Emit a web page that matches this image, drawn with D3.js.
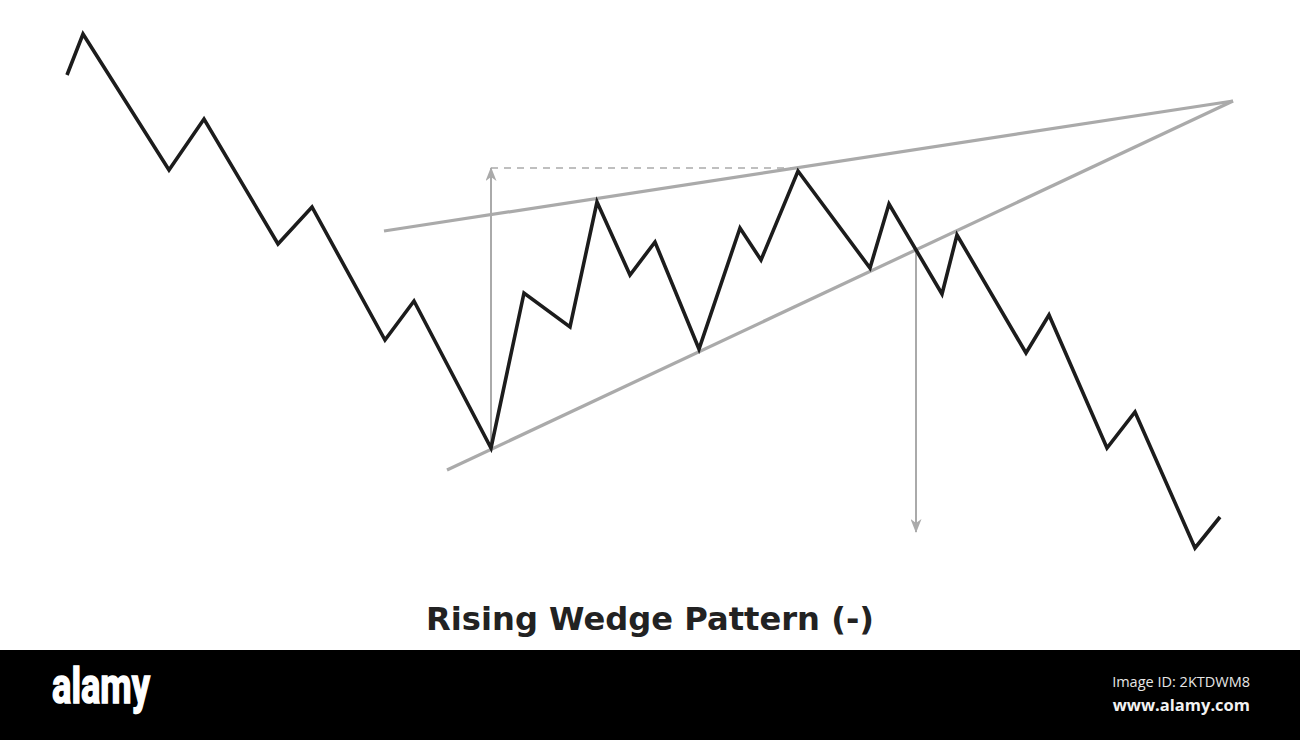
<!DOCTYPE html>
<html>
<head>
<meta charset="utf-8">
<script src="https://cdn.jsdelivr.net/npm/d3@7"></script>
<style>
  body { margin: 0; background: #fff; }
  svg { display: block; }
</style>
</head>
<body>
<div class="chart"></div>
<script>
var svgWidth = 1300;
var svgHeight = 740;

// price path (time, price)
var times  = [7, 23, 109, 144, 218, 252, 325, 354, 431, 464, 510, 537, 570, 595, 639, 680, 701, 738, 810, 829, 882, 897, 966, 989, 1047, 1075, 1135, 1160];
var prices = [525, 566, 430, 481, 356, 393, 260, 299, 152, 307, 273, 398, 325, 358, 251, 372, 340, 429, 332, 396, 306, 365, 247, 285, 152, 188, 52, 83];

// wedge lines: [start, apex]
var upperLine = [[324, 369], [1173, 499]];
var lowerLine = [[387, 130], [1173, 499]];

// measured height and projected target
var targetLine = [[431, 432], [738, 432]];
var upArrow = [[431, 152], [431, 432]];
var downArrow = [[856, 350], [856, 68]];

var titleText = "Rising Wedge Pattern (-)";

var svg = d3.select(".chart")
    .append("svg")
    .attr("width", svgWidth)
    .attr("height", svgHeight);

var xScale = d3.scaleLinear().domain([0, 1200]).range([60, 1260]);
var yScale = d3.scaleLinear().domain([0, 600]).range([600, 0]);

var line = d3.line()
    .x(d => xScale(d[0]))
    .y(d => yScale(d[1]));

var grey = "#aaaaaa";

// arrow marker
var defs = svg.append("defs");
defs.append("marker")
    .attr("id", "head")
    .attr("viewBox", "0 0 14 11")
    .attr("refX", 13)
    .attr("refY", 5.5)
    .attr("markerWidth", 14)
    .attr("markerHeight", 11)
    .attr("markerUnits", "userSpaceOnUse")
    .attr("orient", "auto")
    .append("path")
    .attr("d", "M0,0 L14,5.5 L0,11 L4,5.5 Z")
    .attr("fill", grey);

// wedge lines
[upperLine, lowerLine].forEach(function(l) {
  svg.append("path")
    .attr("d", line(l))
    .attr("stroke", grey)
    .attr("stroke-width", 3.2)
    .attr("fill", "none");
});

// dashed target
svg.append("path")
  .attr("d", line(targetLine))
  .attr("stroke", grey)
  .attr("stroke-width", 1.6)
  .attr("stroke-dasharray", "7,6")
  .attr("fill", "none");

// arrows
[upArrow, downArrow].forEach(function(a) {
  svg.append("path")
    .attr("d", line(a))
    .attr("stroke", grey)
    .attr("stroke-width", 2)
    .attr("fill", "none")
    .attr("marker-end", "url(#head)");
});

// price line
var pts = times.map((t, i) => [t, prices[i]]);
svg.append("path")
  .attr("d", line(pts))
  .attr("stroke", "#1c1c1c")
  .attr("stroke-width", 3.6)
  .attr("stroke-linejoin", "miter")
  .attr("fill", "none");

// title
var title = svg.append("text")
  .attr("x", 650)
  .attr("y", 630)
  .attr("text-anchor", "middle")
  .attr("font-family", "DejaVu Sans, Verdana, sans-serif")
  .attr("font-weight", "bold")
  .attr("font-size", 30)
  .attr("fill", "#222")
  .text(titleText);
var tw = title.node().getComputedTextLength();
title.attr("font-size", 30 * 448 / tw);

// banner
svg.append("rect")
  .attr("x", 0)
  .attr("y", 650)
  .attr("width", svgWidth)
  .attr("height", 90)
  .attr("fill", "#000");

svg.append("text")
  .attr("x", 52)
  .attr("y", 703)
  .attr("font-family", "Liberation Sans Narrow, Roboto, sans-serif")
  .attr("font-weight", "bold")
  .attr("font-size", 50)
  .attr("textLength", 98)
  .attr("lengthAdjust", "spacingAndGlyphs")
  .attr("fill", "#fff")
  .attr("stroke", "#fff")
  .attr("stroke-width", 1.6)
  .text("alamy");

svg.append("text")
  .attr("x", 1250)
  .attr("y", 687)
  .attr("text-anchor", "end")
  .attr("font-family", "Open Sans, Noto Sans, sans-serif")
  .attr("font-size", 14.5)
  .attr("fill", "#e6e6e6")
  .text("Image ID: 2KTDWM8");

svg.append("text")
  .attr("x", 1250)
  .attr("y", 711)
  .attr("text-anchor", "end")
  .attr("font-family", "Open Sans, Noto Sans, sans-serif")
  .attr("font-weight", "bold")
  .attr("font-size", 16.5)
  .attr("fill", "#f2f2f2")
  .text("www.alamy.com");
</script>
</body>
</html>
